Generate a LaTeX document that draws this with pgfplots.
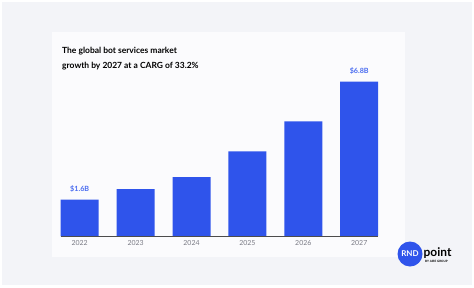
\documentclass[border=0pt]{standalone}
\usepackage{pgfplots}
\pgfplotsset{compat=1.18}
\usepackage{fontspec}
\setmainfont{Lato}
\definecolor{barblue}{HTML}{2F54EB}
\definecolor{lblblue}{HTML}{4A6CF0}
\definecolor{outerbg}{HTML}{F3F4F8}
\definecolor{innerbg}{HTML}{FBFBFD}
\definecolor{tickgray}{HTML}{7A7B85}
\begin{document}
\begin{tikzpicture}[x=1bp,y=1bp]
\fill[white] (0,0) rectangle (474,287);
\fill[outerbg] (2,2) rectangle (472,285);
\fill[innerbg] (52,30) rectangle (405,255.5);
\node[anchor=base west, inner sep=0pt, font=\fontsize{8.5}{10}\selectfont\bfseries] at (62,233.7) {The global bot services market};
\node[anchor=base west, inner sep=0pt, font=\fontsize{8.5}{10}\selectfont\bfseries] at (62,218.7) {growth by 2027 at a CARG of 33.2\%};
\begin{axis}[
  at={(51.75bp,51bp)}, anchor=south west,
  scale only axis, width=335.4bp, height=181.6bp,
  xmin=-0.5, xmax=5.5, ymin=0, ymax=8,
  axis line style={draw=none},
  ytick=\empty,
  xtick={0,1,2,3,4,5},
  xticklabels={2022,2023,2024,2025,2026,2027},
  major tick length=0pt,
  xticklabel style={inner sep=0pt, anchor=north, yshift=-4.5bp, text=tickgray, font=\fontsize{7}{8}\selectfont},
  clip=false,
]
\addplot[ybar, bar width=38bp, fill=barblue, draw=none,
  point meta=explicit symbolic,
  nodes near coords={\pgfplotspointmeta},
  every node near coord/.append style={anchor=center, yshift=11bp, text=lblblue, font=\fontsize{7.2}{8}\selectfont\bfseries}]
  coordinates {(0,1.6) [\$1.6B] (1,2.06) [] (2,2.59) [] (3,3.73) [] (4,5.05) [] (5,6.8) [\$6.8B]};
\draw[black!70, line width=0.8bp] (axis cs:-0.34,0) -- (axis cs:5.34,0);
\end{axis}
\fill[barblue] (410,33) circle (12.5);
\node[text=white, inner sep=0pt, font=\fontsize{8}{9}\selectfont\bfseries] at (410,33) {RND};
\node[anchor=base west, inner sep=0pt, font=\fontsize{12}{13}\selectfont\bfseries] at (423.5,31) {point};
\node[anchor=base west, inner sep=0pt, font=\fontsize{3}{3.5}\selectfont\bfseries] at (425,24.5) {BY AIRE GROUP};
\end{tikzpicture}
\end{document}
